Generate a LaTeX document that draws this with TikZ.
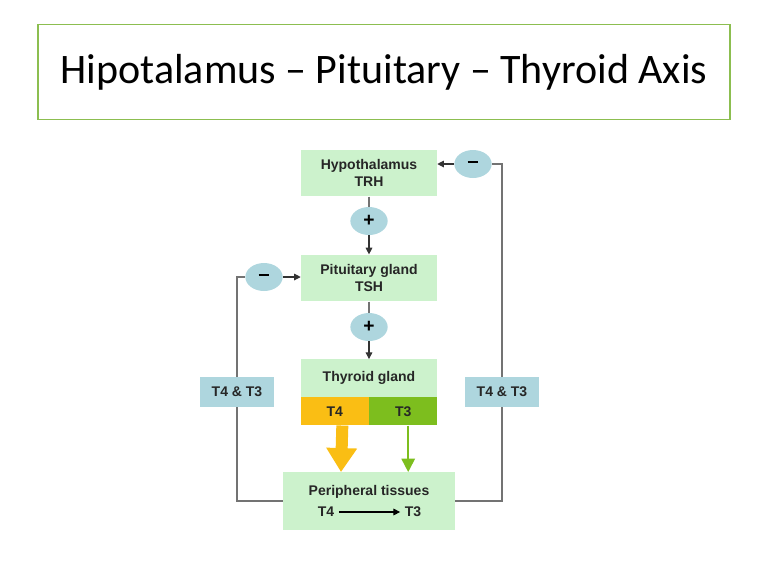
\documentclass[tikz,border=0pt]{standalone}
\usepackage{fontspec}
\setmainfont{Carlito}
\newfontfamily\arialb{Liberation Sans}
\usetikzlibrary{arrows.meta,shapes.geometric}
\definecolor{lg}{RGB}{204,242,204}
\definecolor{lb}{RGB}{174,214,222}
\definecolor{org}{RGB}{250,190,20}
\definecolor{grn}{RGB}{125,190,30}
\definecolor{tb}{RGB}{140,190,80}
\begin{document}
\begin{tikzpicture}[x=0.75pt,y=-0.75pt,
 bf/.style={font=\arialb\bfseries\fontsize{10.5}{12.5}\selectfont,text=black!85},
 box/.style={fill=lg,draw=none,minimum width=102pt,inner sep=0pt,align=center,bf},
 sign/.style={ellipse,fill=lb,minimum width=28pt,minimum height=21pt,inner sep=0pt,font=\arialb\bfseries\Large},
 tt/.style={fill=lb,minimum width=55pt,minimum height=22pt,inner sep=0pt,bf},
 ln/.style={draw=black!55,line width=0.8pt},
 ar/.style={ln,-{Triangle[length=5pt,width=5pt]},draw=black!80}]
\useasboundingbox (0,0) rectangle (768,576);
\node[draw=tb,line width=0.8pt,minimum width=519pt,minimum height=71pt,font=\fontsize{31.5}{36}\selectfont] (title) at (384,72) {Hipotalamus -- Pituitary -- Thyroid Axis};
\node[box,minimum height=35pt] (hyp) at (369,173) {Hypothalamus\\TRH};
\node[box,minimum height=35pt] (pit) at (369,278) {Pituitary gland\\TSH};
\node[box,minimum height=28pt] (thy) at (369,378) {Thyroid gland};
\node[fill=org,minimum width=51pt,minimum height=21pt,inner sep=0pt,anchor=north east,bf] (t4) at (369,397) {T4};
\node[fill=grn,minimum width=51pt,minimum height=21pt,inner sep=0pt,anchor=north west,bf] (t3) at (369,397) {T3};
\node[box,minimum width=129pt,minimum height=43pt] (per) at (369,501) {};
\node[bf] (pt) at (369,492) {Peripheral tissues};
\node[bf] (pa) at (326,512) {T4};
\node[bf] (pb) at (413,512) {T3};
\draw[ar,draw=black] (pa.east) -- (pb.west);
\node[sign] (p1) at (369,221) {+};
\node[sign] (p2) at (369,327) {+};
\node[sign] (m1) at (264,277) {\rule[3pt]{8pt}{1.6pt}};
\node[sign] (m2) at (473,164) {\rule[3pt]{8pt}{1.6pt}};
\node[tt] (l) at (237,392) {T4 \& T3};
\node[tt] (r) at (502,392) {T4 \& T3};
\draw[ln] (hyp.south) -- (p1.north);
\draw[ar] (p1.south) -- (pit.north);
\draw[ln] (pit.south) -- (p2.north);
\draw[ar] (p2.south) -- (thy.north);
\draw[ln] (per.west) -| (l.south);
\draw[ln] (l.north) |- (m1.west);
\draw[ar] (m1.east) -- (m1.east -| pit.west);
\draw[ln] (per.east) -| (r.south);
\draw[ln] (r.north) |- (m2.east);
\draw[ar] (m2.west) -- (m2.west -| hyp.east);
\draw[org,line width=9pt,-{Triangle[length=18pt,width=22pt]}] ([xshift=-20pt]t4.south east) -- ([xshift=-21pt]per.north);
\draw[grn,line width=1.3pt,-{Triangle[length=10pt,width=10pt]}] ([xshift=-22pt]t3.south east) -- ([xshift=-22pt]t3.south east |- per.north);
\end{tikzpicture}
\end{document}
